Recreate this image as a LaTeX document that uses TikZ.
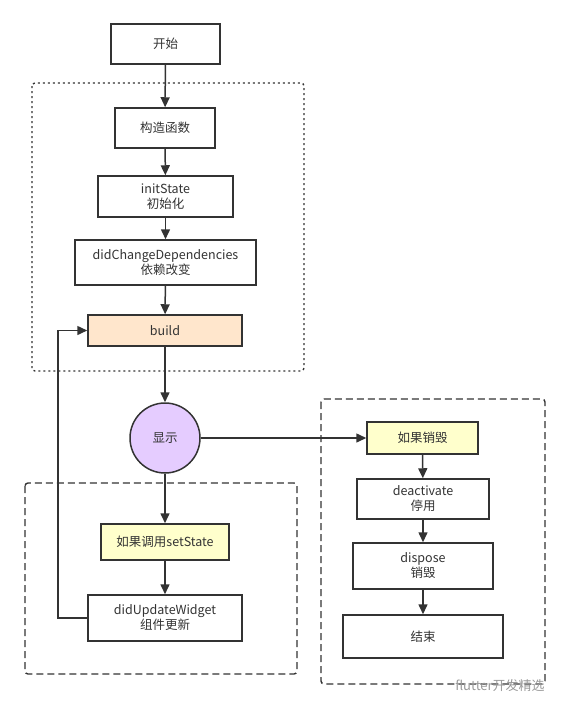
\documentclass[tikz,border=0pt]{standalone}
\usepackage{fontspec}
\setmainfont{Noto Sans CJK SC}
\usetikzlibrary{arrows.meta}
\definecolor{ink}{HTML}{333333}
\definecolor{peach}{HTML}{FFE6CC}
\definecolor{lemon}{HTML}{FFFFCC}
\definecolor{lilac}{HTML}{E5CCFF}
\begin{document}
\begin{tikzpicture}[x=1pt,y=-1pt,
        box/.style={rectangle,draw=ink,line width=1.5pt,fill=white,text=ink,
          align=center,inner sep=0pt,font=\fontsize{12.5}{15}\selectfont},
        circ/.style={circle,draw=ink,line width=1.5pt,fill=lilac,text=ink,
          inner sep=0pt,minimum size=70pt,font=\fontsize{12.5}{15}\selectfont},
        arr/.style={draw=ink,line width=1.5pt,-{Triangle[length=10pt,width=9pt]}},
        frame/.style={draw=ink,line width=1.4pt,rounded corners=3pt}]
      \useasboundingbox (0,0) rectangle (570,710);
      % groups
      \draw[frame,dash pattern=on 2pt off 3pt] (32,83) rectangle (304,371);
      \draw[frame,dash pattern=on 7pt off 4pt] (25,483) rectangle (297,674);
      \draw[frame,dash pattern=on 7pt off 4pt] (321,399) rectangle (545,684);
      % nodes
      \node (start) at (165.5,44) [box,minimum width=109pt,minimum height=40pt] {开始};
      \node (ctor) at (165,128) [box,minimum width=100pt,minimum height=40pt] {构造函数};
      \node (init) at (165.5,196.5) [box,minimum width=135pt,minimum height=41pt] {initState\\初始化};
      \node (deps) at (165.5,262.5) [box,minimum width=181pt,minimum height=45pt] {didChangeDependencies\\依赖改变};
      \node (build) at (165,330.5) [box,fill=peach,minimum width=154pt,minimum height=31pt] {build};
      \node (show) at (165,438) [circ] {显示};
      \node (setstate) at (165,542) [box,fill=lemon,minimum width=128pt,minimum height=36pt] {如果调用setState};
      \node (update) at (165,618) [box,minimum width=154pt,minimum height=46pt] {didUpdateWidget\\组件更新};
      \node (destroy) at (422.5,438) [box,fill=lemon,minimum width=111pt,minimum height=32pt] {如果销毁};
      \node (deact) at (423,499) [box,minimum width=132pt,minimum height=40pt] {deactivate\\停用};
      \node (dispose) at (423,566) [box,minimum width=140pt,minimum height=46pt] {dispose\\销毁};
      \node (end) at (423,636.5) [box,minimum width=160pt,minimum height=43pt] {结束};
      \coordinate (loop) at (58,618);
      % connectors
      \draw (start) edge[arr] (ctor);
      \draw (ctor) edge[arr] (init);
      \draw (init) edge[arr] (deps);
      \draw (deps) edge[arr] (build);
      \draw (build) edge[arr] (show);
      \draw (show) edge[arr] (setstate);
      \draw (setstate) edge[arr] (update);
      \draw[arr] (update.west) -- (loop) |- (build.west);
      \draw (show) edge[arr] (destroy);
      \draw (destroy) edge[arr] (deact);
      \draw (deact) edge[arr] (dispose);
      \draw (dispose) edge[arr] (end);
      % watermark
      \node (mark) at (500,686) [text=black!40,font=\fontsize{13}{15}\selectfont] {flutter开发精选};
\end{tikzpicture}
\end{document}
